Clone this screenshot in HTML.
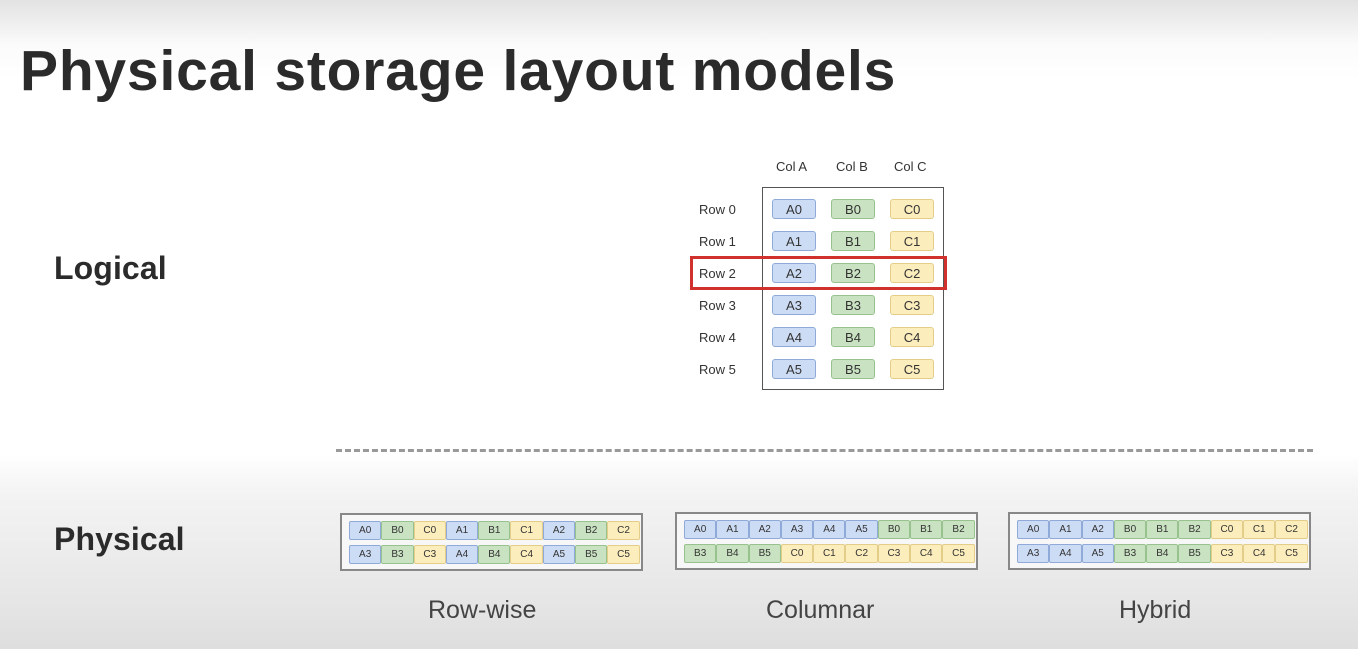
<!DOCTYPE html>
<html><head><meta charset="utf-8"><style>
*{box-sizing:border-box;margin:0;padding:0}
body{width:1358px;height:649px;overflow:hidden;position:relative;font-family:"Liberation Sans",Arial,sans-serif;
background:linear-gradient(to bottom,#e2e2e2 0px,#fbfbfb 45px,#ffffff 80px,#ffffff 455px,#f4f4f4 490px,#e6e6e6 600px,#dedede 649px)}
.a{position:absolute}
h1{position:absolute;left:20px;top:38px;font-size:57px;font-weight:bold;color:#2b2b2b;letter-spacing:0.8px;white-space:nowrap}
.lbl{font-size:32px;font-weight:bold;color:#2b2b2b;letter-spacing:0.1px}
.t{font-size:13px;color:#333}
.grid{left:762px;top:187px;width:182px;height:203px;border:1.5px solid #555;background:#fff}
.c{position:absolute;width:44px;height:20px;border-radius:3px;font-size:13px;color:#333;text-align:center;line-height:19px}
.A{background:#cddcf5;border:1px solid #8fa9d8}
.B{background:#c9e2c2;border:1px solid #97c28d}
.C{background:#fcedbd;border:1px solid #e3cd88}
.red{left:690px;top:256px;width:257px;height:34px;border:3px solid #d0312d}
.box{position:absolute;width:303px;height:58px;border:2px solid #888;background:#f7f7f7;padding:6px 0 0 7px}
.r{display:flex;margin-bottom:5px}
.r div{width:32.3px;height:19px;font-size:10px;color:#333;text-align:center;line-height:18px;border-radius:2px}
.cap{font-size:25px;color:#444;position:absolute;top:596px}
.dash{left:336px;top:449px;width:977px;height:0;border-top:3px dashed #999}
</style></head><body>
<h1>Physical storage layout models</h1>
<div class="a lbl" style="left:54px;top:250px">Logical</div>
<div class="a lbl" style="left:54px;top:521px">Physical</div>

<div class="a t" style="left:776px;top:159px">Col A</div>
<div class="a t" style="left:836px;top:159px">Col B</div>
<div class="a t" style="left:894px;top:159px">Col C</div>
<div class="a grid"></div>
<div class="a t" style="left:699px;top:202px">Row 0</div>
<div class="a t" style="left:699px;top:234px">Row 1</div>
<div class="a t" style="left:699px;top:266px">Row 2</div>
<div class="a t" style="left:699px;top:298px">Row 3</div>
<div class="a t" style="left:699px;top:330px">Row 4</div>
<div class="a t" style="left:699px;top:362px">Row 5</div>

<div class="c A" style="left:772px;top:199px">A0</div><div class="c B" style="left:831px;top:199px">B0</div><div class="c C" style="left:890px;top:199px">C0</div>
<div class="c A" style="left:772px;top:231px">A1</div><div class="c B" style="left:831px;top:231px">B1</div><div class="c C" style="left:890px;top:231px">C1</div>
<div class="c A" style="left:772px;top:263px">A2</div><div class="c B" style="left:831px;top:263px">B2</div><div class="c C" style="left:890px;top:263px">C2</div>
<div class="c A" style="left:772px;top:295px">A3</div><div class="c B" style="left:831px;top:295px">B3</div><div class="c C" style="left:890px;top:295px">C3</div>
<div class="c A" style="left:772px;top:327px">A4</div><div class="c B" style="left:831px;top:327px">B4</div><div class="c C" style="left:890px;top:327px">C4</div>
<div class="c A" style="left:772px;top:359px">A5</div><div class="c B" style="left:831px;top:359px">B5</div><div class="c C" style="left:890px;top:359px">C5</div>
<div class="a red"></div>

<div class="a dash"></div>

<div class="box" style="left:340px;top:513px">
<div class="r"><div class="A">A0</div><div class="B">B0</div><div class="C">C0</div><div class="A">A1</div><div class="B">B1</div><div class="C">C1</div><div class="A">A2</div><div class="B">B2</div><div class="C">C2</div></div>
<div class="r"><div class="A">A3</div><div class="B">B3</div><div class="C">C3</div><div class="A">A4</div><div class="B">B4</div><div class="C">C4</div><div class="A">A5</div><div class="B">B5</div><div class="C">C5</div></div>
</div>
<div class="box" style="left:675px;top:512px">
<div class="r"><div class="A">A0</div><div class="A">A1</div><div class="A">A2</div><div class="A">A3</div><div class="A">A4</div><div class="A">A5</div><div class="B">B0</div><div class="B">B1</div><div class="B">B2</div></div>
<div class="r"><div class="B">B3</div><div class="B">B4</div><div class="B">B5</div><div class="C">C0</div><div class="C">C1</div><div class="C">C2</div><div class="C">C3</div><div class="C">C4</div><div class="C">C5</div></div>
</div>
<div class="box" style="left:1008px;top:512px">
<div class="r"><div class="A">A0</div><div class="A">A1</div><div class="A">A2</div><div class="B">B0</div><div class="B">B1</div><div class="B">B2</div><div class="C">C0</div><div class="C">C1</div><div class="C">C2</div></div>
<div class="r"><div class="A">A3</div><div class="A">A4</div><div class="A">A5</div><div class="B">B3</div><div class="B">B4</div><div class="B">B5</div><div class="C">C3</div><div class="C">C4</div><div class="C">C5</div></div>
</div>

<div class="cap" style="left:428px">Row-wise</div>
<div class="cap" style="left:766px">Columnar</div>
<div class="cap" style="left:1119px">Hybrid</div>
</body></html>
